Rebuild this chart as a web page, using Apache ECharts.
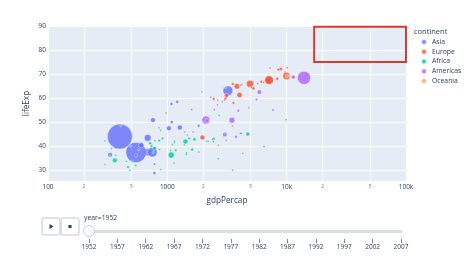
<!DOCTYPE html>
<html>
<head>
<meta charset="utf-8">
<script src="https://cdn.jsdelivr.net/npm/echarts@6/dist/echarts.min.js"></script>
<style>
html, body { margin: 0; padding: 0; background: #fff; }
#main { width: 474px; height: 267px; }
</style>
</head>
<body>
<div id="main"></div>
<script>
// gapminder, year 1952 : [gdpPercap, lifeExp, pop, country]
var asia = [
    [779.4, 28.80, 8425333, 'Afghanistan'], [9867.1, 50.94, 120447, 'Bahrain'],
    [684.2, 37.48, 46886859, 'Bangladesh'], [368.5, 39.42, 4693836, 'Cambodia'],
    [400.4, 44.00, 556263527, 'China'], [3054.4, 60.96, 2125900, 'Hong Kong, China'],
    [546.6, 37.37, 372000000, 'India'], [749.7, 37.47, 82052000, 'Indonesia'],
    [3035.3, 44.87, 17272000, 'Iran'], [4129.8, 45.32, 5441766, 'Iraq'],
    [4086.5, 65.39, 1620914, 'Israel'], [3217.0, 63.03, 86459025, 'Japan'],
    [1546.9, 43.16, 607914, 'Jordan'], [1088.3, 50.06, 8865488, 'Korea, Dem. Rep.'],
    [1030.6, 47.45, 20947571, 'Korea, Rep.'], [108382.4, 55.57, 160000, 'Kuwait'],
    [4834.8, 55.93, 1439529, 'Lebanon'], [1831.1, 48.46, 6748378, 'Malaysia'],
    [786.6, 42.24, 800663, 'Mongolia'], [331.0, 36.32, 20092996, 'Myanmar'],
    [545.9, 36.16, 9182536, 'Nepal'], [1828.2, 37.58, 507833, 'Oman'],
    [684.6, 43.44, 41346560, 'Pakistan'], [1272.9, 47.75, 22438691, 'Philippines'],
    [6459.6, 39.88, 4005677, 'Saudi Arabia'], [2315.1, 60.40, 1127000, 'Singapore'],
    [1083.5, 57.59, 7982342, 'Sri Lanka'], [1643.5, 45.88, 3661549, 'Syria'],
    [1206.9, 58.50, 8550362, 'Taiwan'], [757.8, 50.85, 21289402, 'Thailand'],
    [605.1, 40.41, 26246839, 'Vietnam'], [1515.6, 43.16, 1030585, 'West Bank and Gaza'],
    [781.7, 32.55, 4963829, 'Yemen, Rep.']
];
var europe = [
    [1601.1, 55.23, 1282697, 'Albania'], [6137.1, 66.80, 6927772, 'Austria'],
    [8343.1, 68.00, 8730405, 'Belgium'], [973.5, 53.82, 2791000, 'Bosnia and Herzegovina'],
    [2444.3, 59.60, 7274900, 'Bulgaria'], [3119.2, 61.21, 3882229, 'Croatia'],
    [6876.1, 66.87, 9125183, 'Czech Republic'], [9692.4, 70.78, 4334000, 'Denmark'],
    [6424.5, 66.55, 4090500, 'Finland'], [7029.8, 67.41, 42459667, 'France'],
    [7144.1, 67.50, 69145952, 'Germany'], [3530.7, 65.86, 7733250, 'Greece'],
    [5263.7, 64.03, 9504000, 'Hungary'], [7267.7, 72.49, 147962, 'Iceland'],
    [5210.3, 66.91, 2952156, 'Ireland'], [4931.4, 65.94, 47666000, 'Italy'],
    [2647.6, 59.16, 413834, 'Montenegro'], [8941.6, 72.13, 10381988, 'Netherlands'],
    [10095.4, 72.67, 3327728, 'Norway'], [4029.3, 61.31, 25730551, 'Poland'],
    [3068.3, 59.82, 8526050, 'Portugal'], [3144.6, 61.05, 16630000, 'Romania'],
    [3581.5, 58.00, 6860147, 'Serbia'], [5074.7, 64.36, 3558137, 'Slovak Republic'],
    [4215.0, 65.57, 1489518, 'Slovenia'], [3834.0, 64.94, 28549870, 'Spain'],
    [8527.8, 71.86, 7124673, 'Sweden'], [14734.2, 69.62, 4815000, 'Switzerland'],
    [1969.1, 43.59, 22235677, 'Turkey'], [9979.5, 69.18, 50430000, 'United Kingdom']
];
var africa = [
    [2449.0, 43.08, 9279525, 'Algeria'], [3520.6, 30.02, 4232095, 'Angola'],
    [1062.8, 38.22, 1738315, 'Benin'], [851.2, 47.62, 442308, 'Botswana'],
    [543.3, 31.98, 4469979, 'Burkina Faso'], [339.3, 39.03, 2445618, 'Burundi'],
    [1172.7, 38.52, 5009067, 'Cameroon'], [1071.3, 35.46, 1291695, 'Central African Republic'],
    [1178.7, 38.09, 2682462, 'Chad'], [1103.0, 40.72, 153936, 'Comoros'],
    [780.5, 39.14, 14100005, 'Congo, Dem. Rep.'], [2125.6, 42.11, 854885, 'Congo, Rep.'],
    [1388.6, 40.48, 2977019, "Cote d'Ivoire"], [2669.5, 34.81, 63149, 'Djibouti'],
    [1418.8, 41.89, 22223309, 'Egypt'], [375.6, 34.48, 216964, 'Equatorial Guinea'],
    [328.9, 35.93, 1438760, 'Eritrea'], [362.1, 34.08, 20860941, 'Ethiopia'],
    [4293.5, 37.00, 420702, 'Gabon'], [485.2, 30.00, 284320, 'Gambia'],
    [911.3, 43.15, 5581001, 'Ghana'], [510.2, 33.61, 2664249, 'Guinea'],
    [299.9, 32.50, 580653, 'Guinea-Bissau'], [853.5, 42.27, 6464046, 'Kenya'],
    [298.8, 42.14, 748747, 'Lesotho'], [575.6, 38.48, 863308, 'Liberia'],
    [2387.5, 42.72, 1019729, 'Libya'], [1443.0, 36.68, 4762912, 'Madagascar'],
    [369.2, 36.26, 2917802, 'Malawi'], [452.3, 33.69, 3838168, 'Mali'],
    [743.1, 40.54, 1022556, 'Mauritania'], [1968.0, 50.99, 516556, 'Mauritius'],
    [1688.2, 42.87, 9939217, 'Morocco'], [468.5, 31.29, 6446316, 'Mozambique'],
    [2423.8, 41.73, 485831, 'Namibia'], [761.9, 37.44, 3379468, 'Niger'],
    [1077.3, 36.32, 33119096, 'Nigeria'], [2718.9, 52.72, 257700, 'Reunion'],
    [493.3, 40.00, 2534927, 'Rwanda'], [879.6, 46.47, 60011, 'Sao Tome and Principe'],
    [1450.4, 37.28, 2755589, 'Senegal'], [879.8, 30.33, 2143249, 'Sierra Leone'],
    [1135.7, 32.98, 2526994, 'Somalia'], [4725.3, 45.01, 14264935, 'South Africa'],
    [1616.0, 38.64, 8504667, 'Sudan'], [1148.4, 41.41, 290243, 'Swaziland'],
    [716.7, 41.22, 8322925, 'Tanzania'], [859.8, 38.60, 1219113, 'Togo'],
    [1468.5, 44.60, 3647735, 'Tunisia'], [734.8, 39.98, 5824797, 'Uganda'],
    [1147.4, 42.04, 2672000, 'Zambia'], [406.9, 48.45, 3080907, 'Zimbabwe']
];
var americas = [
    [5911.3, 62.49, 17876956, 'Argentina'], [2677.3, 40.41, 2883315, 'Bolivia'],
    [2108.9, 50.92, 56602560, 'Brazil'], [11367.2, 68.75, 14785584, 'Canada'],
    [3940.0, 54.75, 6377619, 'Chile'], [2144.1, 50.64, 12350771, 'Colombia'],
    [2627.0, 57.21, 926317, 'Costa Rica'], [5586.5, 59.42, 6007797, 'Cuba'],
    [1397.7, 45.93, 2491346, 'Dominican Republic'], [3522.1, 48.36, 3548753, 'Ecuador'],
    [3048.3, 45.26, 2042865, 'El Salvador'], [2428.2, 42.02, 3146381, 'Guatemala'],
    [1840.4, 37.58, 3201488, 'Haiti'], [2194.9, 41.91, 1517453, 'Honduras'],
    [2898.5, 58.53, 1426095, 'Jamaica'], [3478.1, 50.79, 30144317, 'Mexico'],
    [3112.4, 42.31, 1165790, 'Nicaragua'], [2480.4, 55.19, 940080, 'Panama'],
    [1952.3, 62.65, 1555876, 'Paraguay'], [3758.5, 43.90, 8025700, 'Peru'],
    [3082.0, 64.28, 2227000, 'Puerto Rico'], [3023.3, 59.10, 662850, 'Trinidad and Tobago'],
    [13990.5, 68.44, 157553000, 'United States'], [5716.8, 66.07, 2252965, 'Uruguay'],
    [7689.8, 55.09, 5439568, 'Venezuela']
];
var oceania = [
    [10039.6, 69.12, 8691212, 'Australia'], [10556.6, 69.39, 1994794, 'New Zealand']
];

var continents = ['Asia', 'Europe', 'Africa', 'Americas', 'Oceania'];
var continentColors = ['#636efa', '#EF553B', '#00cc96', '#ab63fa', '#FFA15A'];
var years = ['1952', '1957', '1962', '1967', '1972', '1977', '1982', '1987', '1992', '1997', '2002', '2007'];
var currentYear = '1952';
var xTicks = [100, 200, 500, 1000, 2000, 5000, 10000, 20000, 50000, 100000];
var yTicks = [30, 40, 50, 60, 70, 80, 90];
var emptyBox = [17000, 89.7, 100000, 75]; // red box corners (x0, y0, x1, y1)

var font = "'Open Sans', 'Noto Sans', sans-serif";
var textColor = '#2a3f5f';
var maxPop = 556263527;

function bubbleSize(d) {
    return Math.max(2, 25 * Math.sqrt(d[2] / maxPop));
}
function xLabel(v) {
    if (v === 100) return '100';
    if (v === 1000) return '1000';
    if (v === 10000) return '10k';
    if (v === 100000) return '100k';
    return '{m|' + String(v).charAt(0) + '}';
}

var groups = [asia, europe, africa, americas, oceania];
var series = [];
for (var i = 0; i < continents.length; i++) {
    series.push({
        name: continents[i],
        type: 'scatter',
        data: groups[i],
        symbolSize: bubbleSize,
        clip: true,
        itemStyle: {
            color: continentColors[i],
            opacity: 0.8,
            borderColor: '#fff',
            borderWidth: 0.5
        }
    });
}
// red box over the empty corner
series.push({
    name: 'box',
    type: 'scatter',
    data: [],
    markArea: {
        silent: true,
        itemStyle: { color: 'rgba(0,0,0,0)', borderColor: '#dc3b2b', borderWidth: 2 },
        data: [[{ coord: [emptyBox[0], emptyBox[1]] }, { coord: [emptyBox[2], emptyBox[3]] }]]
    }
});
// slider handle
series.push({
    name: 'year',
    type: 'scatter',
    xAxisIndex: 1,
    yAxisIndex: 1,
    data: [[currentYear, 0]],
    symbolSize: 11,
    silent: true,
    itemStyle: { color: '#f8fafc', borderColor: '#bec8d9', borderWidth: 1 },
    z: 5
});

var myChart = echarts.init(document.getElementById('main'));
var option = {
    animation: false,
    textStyle: { fontFamily: font },
    legend: {
        data: continents,
        orient: 'vertical',
        left: 420,
        top: 38,
        padding: 0,
        itemWidth: 6,
        itemHeight: 6,
        itemGap: 1.75,
        icon: 'circle',
        textStyle: { fontSize: 6.8, lineHeight: 8, color: textColor, fontFamily: font }
    },
    title: {
        text: 'continent',
        left: 414,
        top: 27.5,
        padding: 0,
        textStyle: { fontSize: 7.5, fontWeight: 'normal', color: textColor, fontFamily: font }
    },
    grid: [
        { left: 48, right: 68, top: 26, bottom: 86, show: true, backgroundColor: '#E5ECF6', borderWidth: 0 },
        { left: 89, right: 73, top: 230, height: 1 },
        { left: 89, right: 73, top: 238, height: 1 }
    ],
    xAxis: [
        {
            type: 'log',
            logBase: 10,
            min: 100,
            max: 100000,
            name: 'gdpPercap',
            nameLocation: 'middle',
            nameGap: 15.5,
            nameMoveOverlap: false,
            nameTextStyle: { fontSize: 8.2, color: textColor },
            axisLine: { show: false },
            axisTick: { show: false, customValues: xTicks },
            axisLabel: {
                customValues: xTicks,
                formatter: xLabel,
                fontSize: 6.5,
                color: textColor,
                margin: 3,
                rich: { m: { fontSize: 5, color: '#6b7a93' } }
            },
            splitLine: { show: true, lineStyle: { color: '#fff', width: 1 } }
        },
        {
            type: 'category',
            gridIndex: 1,
            data: years,
            boundaryGap: false,
            position: 'bottom',
            axisLine: { show: true, lineStyle: { color: '#d8dfe9', width: 3, cap: 'round' } },
            axisTick: { show: false },
            axisLabel: { show: false },
            splitLine: { show: false }
        },
        {
            type: 'category',
            gridIndex: 2,
            data: years,
            boundaryGap: false,
            position: 'bottom',
            axisLine: { show: false },
            axisTick: { show: true, interval: 0, length: 4, lineStyle: { color: '#7a8598' } },
            axisLabel: { fontSize: 6.5, color: textColor, margin: 5, interval: 0 },
            splitLine: { show: false }
        }
    ],
    yAxis: [
        {
            type: 'value',
            min: 25.5,
            max: 90,
            name: 'lifeExp',
            nameLocation: 'middle',
            nameGap: 17,
            nameMoveOverlap: false,
            nameTextStyle: { fontSize: 8.2, color: textColor },
            axisLine: { show: false },
            axisTick: { show: false, customValues: yTicks },
            axisLabel: { customValues: yTicks, fontSize: 6.5, color: textColor, margin: 2 },
            splitLine: { show: true, lineStyle: { color: '#fff', width: 1 } }
        },
        { type: 'value', gridIndex: 1, min: 0, max: 1, show: false },
        { type: 'value', gridIndex: 2, min: 0, max: 1, show: false }
    ],
    graphic: [
        { type: 'rect', shape: { x: 42, y: 218, width: 18, height: 17, r: 2 }, style: { fill: '#fff', stroke: '#bec8d9', lineWidth: 1 } },
        { type: 'polygon', shape: { points: [[49.5, 224], [49.5, 229], [53.5, 226.5]] }, style: { fill: textColor } },
        { type: 'rect', shape: { x: 61, y: 218, width: 18, height: 17, r: 2 }, style: { fill: '#fff', stroke: '#bec8d9', lineWidth: 1 } },
        { type: 'rect', shape: { x: 68.5, y: 225, width: 3, height: 3 }, style: { fill: textColor } },
        { type: 'text', left: 84, top: 215, style: { text: 'year=' + currentYear, fontSize: 6.8, fill: textColor, fontFamily: font } }
    ],
    series: series
};
myChart.setOption(option);
</script>
</body>
</html>
